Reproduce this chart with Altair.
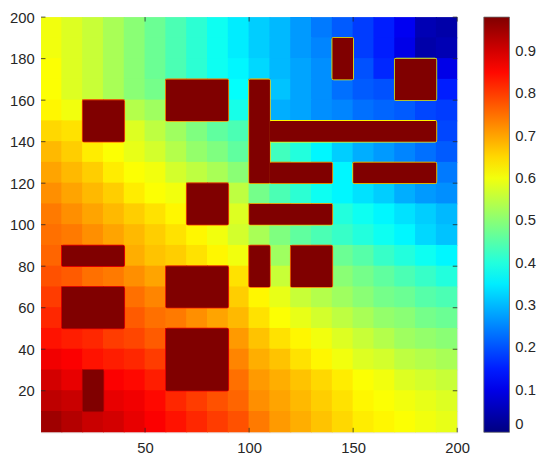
import altair as alt
import pandas as pd

# ---- field values (cell centres every 10 units) ----
x_centres = [5, 15, 25, 35, 45, 55, 65, 75, 85, 95, 105, 115, 125, 135, 145, 155, 165, 175, 185, 195]
y_centres = [195, 185, 175, 165, 155, 145, 135, 125, 115, 105, 95, 85, 75, 65, 55, 45, 35, 25, 15, 5]

row_195 = [0.60, 0.58, 0.56, 0.53, 0.50, 0.47, 0.44, 0.41, 0.38, 0.35, 0.32, 0.30, 0.27, 0.24, 0.21, 0.18, 0.15, 0.11, 0.05, 0.04]
row_185 = [0.60, 0.58, 0.56, 0.53, 0.50, 0.47, 0.44, 0.41, 0.38, 0.35, 0.32, 0.30, 0.27, 0.25, 0.98, 0.18, 0.15, 0.10, 0.04, 0.05]
row_175 = [0.61, 0.58, 0.56, 0.53, 0.50, 0.47, 0.44, 0.41, 0.38, 0.36, 0.33, 0.30, 0.28, 0.26, 0.98, 0.20, 0.16, 0.98, 0.98, 0.10]
row_165 = [0.61, 0.58, 0.56, 0.53, 0.50, 0.48, 0.98, 0.98, 0.98, 0.37, 0.98, 0.31, 0.28, 0.26, 0.23, 0.21, 0.20, 0.98, 0.98, 0.15]
row_155 = [0.62, 0.60, 0.98, 0.98, 0.54, 0.52, 0.98, 0.98, 0.98, 0.39, 0.98, 0.29, 0.28, 0.26, 0.25, 0.23, 0.22, 0.21, 0.19, 0.18]
row_145 = [0.65, 0.64, 0.98, 0.98, 0.58, 0.55, 0.52, 0.49, 0.46, 0.44, 0.98, 0.98, 0.98, 0.98, 0.98, 0.98, 0.98, 0.98, 0.98, 0.19]
row_135 = [0.68, 0.66, 0.63, 0.61, 0.59, 0.57, 0.54, 0.51, 0.49, 0.46, 0.98, 0.43, 0.40, 0.36, 0.32, 0.29, 0.27, 0.25, 0.23, 0.21]
row_125 = [0.70, 0.68, 0.66, 0.63, 0.61, 0.60, 0.57, 0.55, 0.53, 0.50, 0.98, 0.98, 0.98, 0.98, 0.36, 0.98, 0.98, 0.98, 0.98, 0.24]
row_115 = [0.72, 0.70, 0.68, 0.66, 0.63, 0.61, 0.60, 0.98, 0.98, 0.55, 0.48, 0.44, 0.41, 0.38, 0.36, 0.34, 0.32, 0.29, 0.27, 0.26]
row_105 = [0.74, 0.72, 0.70, 0.68, 0.66, 0.64, 0.62, 0.98, 0.98, 0.58, 0.98, 0.98, 0.98, 0.98, 0.40, 0.38, 0.36, 0.34, 0.32, 0.30]
row_95 = [0.75, 0.74, 0.72, 0.70, 0.68, 0.66, 0.64, 0.62, 0.60, 0.57, 0.53, 0.49, 0.46, 0.44, 0.42, 0.40, 0.38, 0.36, 0.33, 0.31]
row_85 = [0.76, 0.98, 0.98, 0.98, 0.69, 0.67, 0.66, 0.64, 0.62, 0.60, 0.98, 0.52, 0.98, 0.98, 0.47, 0.45, 0.42, 0.40, 0.38, 0.36]
row_75 = [0.78, 0.77, 0.75, 0.74, 0.72, 0.70, 0.98, 0.98, 0.98, 0.64, 0.98, 0.56, 0.98, 0.98, 0.50, 0.48, 0.46, 0.44, 0.42, 0.40]
row_65 = [0.80, 0.98, 0.98, 0.98, 0.75, 0.73, 0.98, 0.98, 0.98, 0.66, 0.62, 0.59, 0.56, 0.54, 0.52, 0.50, 0.48, 0.47, 0.45, 0.44]
row_55 = [0.82, 0.98, 0.98, 0.98, 0.77, 0.75, 0.74, 0.72, 0.70, 0.68, 0.64, 0.61, 0.59, 0.57, 0.55, 0.53, 0.51, 0.50, 0.48, 0.47]
row_45 = [0.84, 0.83, 0.82, 0.80, 0.79, 0.77, 0.98, 0.98, 0.98, 0.71, 0.67, 0.64, 0.62, 0.60, 0.58, 0.56, 0.54, 0.52, 0.51, 0.50]
row_35 = [0.87, 0.86, 0.84, 0.83, 0.82, 0.80, 0.98, 0.98, 0.98, 0.73, 0.69, 0.67, 0.64, 0.62, 0.60, 0.58, 0.57, 0.55, 0.54, 0.53]
row_25 = [0.90, 0.88, 0.98, 0.86, 0.85, 0.83, 0.98, 0.98, 0.98, 0.75, 0.71, 0.69, 0.67, 0.65, 0.63, 0.61, 0.60, 0.58, 0.57, 0.56]
row_15 = [0.92, 0.91, 0.98, 0.88, 0.87, 0.85, 0.82, 0.80, 0.78, 0.76, 0.72, 0.70, 0.68, 0.66, 0.64, 0.62, 0.61, 0.60, 0.59, 0.58]
row_5 = [0.95, 0.93, 0.91, 0.90, 0.88, 0.86, 0.84, 0.82, 0.80, 0.78, 0.74, 0.71, 0.69, 0.67, 0.65, 0.63, 0.62, 0.61, 0.60, 0.59]

field_rows = [row_195, row_185, row_175, row_165, row_155, row_145, row_135, row_125, row_115, row_105,
              row_95, row_85, row_75, row_65, row_55, row_45, row_35, row_25, row_15, row_5]

# ---- obstacles (rectangles) ----
obs_x1 = [20, 60, 70, 100, 110, 110, 150, 100, 140, 170, 10, 10, 20, 60, 60, 100, 120]
obs_x2 = [40, 90, 90, 110, 190, 140, 190, 140, 150, 190, 40, 40, 30, 90, 90, 110, 140]
obs_y1 = [140, 150, 100, 120, 140, 120, 120, 100, 170, 160, 80, 50, 10, 60, 20, 70, 70]
obs_y2 = [160, 170, 120, 170, 150, 130, 130, 110, 190, 180, 90, 70, 30, 80, 50, 90, 90]
obs_edge = [0.78, 0.72, 0.78, 0.66, 0.62, 0.68, 0.63, 0.68, 0.59, 0.56, 0.86, 0.88, 0.92, 0.82, 0.87, 0.78, 0.75]
obstacle_value = 0.98

x_ticks = [50, 100, 150, 200]
y_ticks = [20, 40, 60, 80, 100, 120, 140, 160, 180, 200]
cbar_ticks = [0, 0.1, 0.2, 0.3, 0.4, 0.5, 0.6, 0.7, 0.8, 0.9]

# ---- tables ----
half = 5.25  # cells drawn slightly overlapping to hide anti-aliasing seams
recs = []
for yc, row in zip(y_centres, field_rows):
    for xc, v in zip(x_centres, row):
        recs.append({"x1": max(xc - half, 0), "x2": min(xc + half, 200),
                     "y1": max(yc - half, 0), "y2": min(yc + half, 200), "v": v})
df = pd.DataFrame(recs)
obs = pd.DataFrame({"x1": obs_x1, "x2": obs_x2, "y1": obs_y1, "y2": obs_y2, "edge": obs_edge})

W, H = 422, 421
FONT = "Liberation Sans"
INK = "#262626"

jet = alt.Scale(domain=[0, 0.1225, 0.3675, 0.6125, 0.8575, obstacle_value],
                range=["#000080", "#0000ff", "#00ffff", "#ffff00", "#ff0000", "#800000"],
                interpolate="rgb")
xs = alt.Scale(domain=[0, 200], nice=False, zero=False)
ys = alt.Scale(domain=[0, 200], nice=False, zero=False)
xaxis = alt.Axis(values=x_ticks, title=None, grid=False, domain=False, ticks=False,
                 labelFlush=False, labelPadding=9, labelFontSize=15, labelFont=FONT, labelColor=INK)
yaxis = alt.Axis(values=y_ticks, title=None, grid=False, domain=False, ticks=False,
                 labelFlush=False, labelPadding=7, labelFontSize=15, labelFont=FONT, labelColor=INK)

heat = alt.Chart(df).mark_rect(strokeWidth=0).encode(
    x=alt.X("x1:Q", scale=xs, axis=xaxis),
    x2="x2:Q",
    y=alt.Y("y1:Q", scale=ys, axis=yaxis),
    y2="y2:Q",
    color=alt.Color("v:Q", scale=jet, legend=alt.Legend(
        type="gradient", title=None, orient="right", direction="vertical", offset=27,
        gradientLength=H, gradientThickness=26, values=cbar_ticks, format=".1~f",
        labelFontSize=15, labelFont=FONT, labelColor=INK, labelOffset=6,
        gradientStrokeColor="#666666", gradientStrokeWidth=0.8)),
)

obs_edge_layer = alt.Chart(obs).mark_rect(strokeWidth=1.6, fill="#800000", cornerRadius=1.5).encode(
    x=alt.X("x1:Q", scale=xs, axis=xaxis), x2="x2:Q",
    y=alt.Y("y1:Q", scale=ys, axis=yaxis), y2="y2:Q",
    stroke=alt.Stroke("edge:Q", scale=jet, legend=None),
)
obs_fill_layer = alt.Chart(obs).mark_rect(fill="#800000", strokeWidth=0, cornerRadius=1).encode(
    x=alt.X("x1:Q", scale=xs, axis=xaxis), x2="x2:Q",
    y=alt.Y("y1:Q", scale=ys, axis=yaxis), y2="y2:Q",
)

xt = pd.DataFrame({"t": x_ticks})
yt = pd.DataFrame({"t": y_ticks})
tick_style = dict(color=INK, strokeWidth=0.8)
xt_bottom = alt.Chart(xt).mark_rule(**tick_style).encode(
    x=alt.X("t:Q", scale=xs, axis=xaxis), y=alt.value(H), y2=alt.value(H - 4.5))
xt_top = alt.Chart(xt).mark_rule(**tick_style).encode(
    x=alt.X("t:Q", scale=xs, axis=xaxis), y=alt.value(0), y2=alt.value(4.5))
yt_left = alt.Chart(yt).mark_rule(**tick_style).encode(
    y=alt.Y("t:Q", scale=ys, axis=yaxis), x=alt.value(0), x2=alt.value(4.5))
yt_right = alt.Chart(yt).mark_rule(**tick_style).encode(
    y=alt.Y("t:Q", scale=ys, axis=yaxis), x=alt.value(W), x2=alt.value(W - 4.5))

chart = alt.layer(heat, obs_edge_layer, obs_fill_layer, xt_bottom, xt_top, yt_left, yt_right).properties(
    width=W, height=H,
    autosize=alt.AutoSizeParams(type="none"),
    padding={"left": 33.5, "top": 6, "right": 86, "bottom": 34},
).resolve_scale(stroke="independent").configure_view(stroke="#555555", strokeWidth=1).configure(background="white")

chart.save("out.html", embed_options={"renderer": "svg", "actions": False})
